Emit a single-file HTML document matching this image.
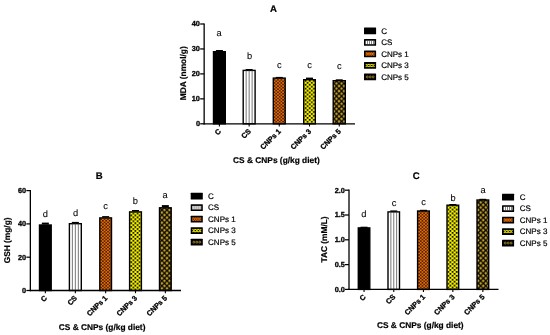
<!DOCTYPE html>
<html><head><meta charset="utf-8"><title>Figure</title>
<style>
html,body{margin:0;padding:0;background:#fff;}
svg{display:block;}
text{font-family:"Liberation Sans",Arial,sans-serif;fill:#000;text-rendering:geometricPrecision;}
.tk{font-size:7.3px;font-weight:bold;stroke:#000;stroke-width:0.3px;}
.al{font-size:8.35px;font-weight:bold;stroke:#000;stroke-width:0.2px;}
.tt{font-size:9.6px;font-weight:bold;stroke:#000;stroke-width:0.2px;}
.lt{font-size:9.3px;stroke:#000;stroke-width:0.08px;}
.lg{font-size:8px;stroke:#000;stroke-width:0.2px;}
</style></head><body>
<svg width="550" height="335" viewBox="0 0 550 335">
<rect width="550" height="335" fill="#fff"/>
<defs>
<pattern id="p1" width="3.4" height="3.1" patternUnits="userSpaceOnUse"><rect width="3.4" height="3.1" fill="#e26e08"/><circle cx="0.85" cy="0.8" r="0.85" fill="#3a1000"/><circle cx="2.55" cy="2.35" r="0.85" fill="#3a1000"/></pattern>
<pattern id="p3" width="4.2" height="3.9" patternUnits="userSpaceOnUse"><rect width="4.2" height="3.9" fill="#f6f200"/><rect x="0.1" y="0.05" width="1.85" height="1.75" rx="0.5" fill="#000"/><rect x="2.2" y="2.0" width="1.85" height="1.75" rx="0.5" fill="#000"/></pattern>
<pattern id="p5" width="5.06" height="5.06" patternUnits="userSpaceOnUse"><rect width="5.06" height="5.06" fill="#0a0800"/><path d="M-1.380 0.000L0.000 -1.380L1.380 0.000L0.000 1.380ZM3.680 0.000L5.060 -1.380L6.440 0.000L5.060 1.380ZM-1.380 5.060L0.000 3.680L1.380 5.060L0.000 6.440ZM3.680 5.060L5.060 3.680L6.440 5.060L5.060 6.440ZM1.150 2.530L2.530 1.150L3.910 2.530L2.530 3.910Z" fill="#c6a22c" stroke="#c6a22c" stroke-width="0.3" stroke-linejoin="round"/></pattern>
</defs>
<rect x="215.90" y="50.00" width="7" height="1.50" fill="#000"/>
<rect x="213.50" y="51.70" width="11.80" height="72.10" fill="#000" stroke="#000" stroke-width="1.4"/>
<text x="219.2" y="36.3" class="lt" text-anchor="middle">a</text>
<line x1="219.40" y1="123.8" x2="219.40" y2="126.5" stroke="#000" stroke-width="1.1"/>
<text transform="translate(221.60,131.80) rotate(-45)" class="tk" text-anchor="end">C</text>
<rect x="245.65" y="69.00" width="7" height="1.50" fill="#000"/>
<rect x="243.20" y="70.40" width="11.90" height="53.40" fill="#fff" stroke="#000" stroke-width="1.4"/>
<line x1="246.17" y1="70.40" x2="246.17" y2="123.80" stroke="#4a4a4a" stroke-width="0.75"/>
<line x1="249.15" y1="70.40" x2="249.15" y2="123.80" stroke="#4a4a4a" stroke-width="0.75"/>
<line x1="252.12" y1="70.40" x2="252.12" y2="123.80" stroke="#4a4a4a" stroke-width="0.75"/>
<text x="249.6" y="58.9" class="lt" text-anchor="middle">b</text>
<line x1="249.15" y1="123.8" x2="249.15" y2="126.5" stroke="#000" stroke-width="1.1"/>
<text transform="translate(251.35,131.80) rotate(-45)" class="tk" text-anchor="end">CS</text>
<rect x="275.75" y="76.90" width="7" height="1.50" fill="#000"/>
<rect x="273.30" y="78.10" width="11.90" height="45.70" fill="url(#p1)" stroke="#000" stroke-width="1.4"/>
<text x="279.3" y="68.2" class="lt" text-anchor="middle">c</text>
<line x1="279.25" y1="123.8" x2="279.25" y2="126.5" stroke="#000" stroke-width="1.1"/>
<text transform="translate(281.45,131.80) rotate(-45)" class="tk" text-anchor="end">CNPs 1</text>
<rect x="306.00" y="77.60" width="7" height="1.70" fill="#000"/>
<rect x="303.70" y="79.70" width="11.60" height="44.10" fill="url(#p3)" stroke="#000" stroke-width="1.4"/>
<text x="309.5" y="68.2" class="lt" text-anchor="middle">c</text>
<line x1="309.50" y1="123.8" x2="309.50" y2="126.5" stroke="#000" stroke-width="1.1"/>
<text transform="translate(311.70,131.80) rotate(-45)" class="tk" text-anchor="end">CNPs 3</text>
<rect x="335.75" y="79.30" width="7" height="1.50" fill="#000"/>
<rect x="333.20" y="80.70" width="12.10" height="43.10" fill="url(#p5)" stroke="#000" stroke-width="1.4"/>
<text x="339.3" y="69.2" class="lt" text-anchor="middle">c</text>
<line x1="339.25" y1="123.8" x2="339.25" y2="126.5" stroke="#000" stroke-width="1.1"/>
<text transform="translate(341.45,131.80) rotate(-45)" class="tk" text-anchor="end">CNPs 5</text>
<line x1="204.15" y1="23.4" x2="204.15" y2="124.45" stroke="#000" stroke-width="1.3"/>
<line x1="203.55" y1="123.8" x2="355" y2="123.8" stroke="#000" stroke-width="1.3"/>
<line x1="200.15" y1="123.80" x2="204.15" y2="123.80" stroke="#000" stroke-width="1.25"/>
<text x="199.95" y="126.25" class="tk" text-anchor="end">0</text>
<line x1="200.15" y1="98.85" x2="204.15" y2="98.85" stroke="#000" stroke-width="1.25"/>
<text x="199.95" y="101.30" class="tk" text-anchor="end">10</text>
<line x1="200.15" y1="73.90" x2="204.15" y2="73.90" stroke="#000" stroke-width="1.25"/>
<text x="199.95" y="76.35" class="tk" text-anchor="end">20</text>
<line x1="200.15" y1="48.95" x2="204.15" y2="48.95" stroke="#000" stroke-width="1.25"/>
<text x="199.95" y="51.40" class="tk" text-anchor="end">30</text>
<line x1="200.15" y1="24.00" x2="204.15" y2="24.00" stroke="#000" stroke-width="1.25"/>
<text x="199.95" y="26.45" class="tk" text-anchor="end">40</text>
<text transform="translate(185.8,73.3) rotate(-90)" class="al" text-anchor="middle">MDA (nmol/g)</text>
<text x="276.4" y="163.1" class="al" text-anchor="middle">CS &amp; CNPs (g/kg diet)</text>
<text x="273.5" y="11.6" class="tt" text-anchor="middle">A</text>
<rect x="364.0" y="27.60" width="12.1" height="6.7" rx="0.5" fill="#000"/>
<text x="381.2" y="33.50" class="lg">C</text>
<rect x="364.0" y="39.10" width="12.1" height="6.7" rx="0.5" fill="#000"/>
<rect x="365.60" y="40.70" width="8.9" height="3.5" fill="#fff"/>
<rect x="367.07" y="40.70" width="0.56" height="3.5" fill="#222"/>
<rect x="369.07" y="40.70" width="0.56" height="3.5" fill="#222"/>
<rect x="371.07" y="40.70" width="0.56" height="3.5" fill="#222"/>
<rect x="373.07" y="40.70" width="0.56" height="3.5" fill="#222"/>
<text x="381.2" y="45.00" class="lg">CS</text>
<rect x="364.0" y="50.60" width="12.1" height="6.7" rx="0.5" fill="#000"/>
<rect x="365.60" y="52.20" width="8.9" height="3.5" fill="#e47008"/>
<circle cx="366.80" cy="53.95" r="0.55" fill="#3a1000"/>
<circle cx="369.05" cy="53.95" r="0.55" fill="#3a1000"/>
<circle cx="371.30" cy="53.95" r="0.55" fill="#3a1000"/>
<circle cx="373.55" cy="53.95" r="0.55" fill="#3a1000"/>
<circle cx="367.90" cy="52.50" r="0.5" fill="#3a1000"/>
<circle cx="367.90" cy="55.40" r="0.5" fill="#3a1000"/>
<circle cx="370.15" cy="52.50" r="0.5" fill="#3a1000"/>
<circle cx="370.15" cy="55.40" r="0.5" fill="#3a1000"/>
<circle cx="372.40" cy="52.50" r="0.5" fill="#3a1000"/>
<circle cx="372.40" cy="55.40" r="0.5" fill="#3a1000"/>
<text x="381.2" y="56.50" class="lg">CNPs 1</text>
<rect x="364.0" y="62.10" width="12.1" height="6.7" rx="0.5" fill="#000"/>
<path d="M365.80 64.00L368.50 66.90M368.50 64.00L365.80 66.90M368.80 64.00L371.50 66.90M371.50 64.00L368.80 66.90M371.80 64.00L374.50 66.90M374.50 64.00L371.80 66.90" stroke="#e8e400" stroke-width="1.05" fill="none"/>
<text x="381.2" y="68.00" class="lg">CNPs 3</text>
<rect x="364.0" y="73.60" width="12.1" height="6.7" rx="0.5" fill="#000"/>
<circle cx="367.20" cy="76.95" r="1.0" fill="none" stroke="#c8a430" stroke-width="0.7"/>
<circle cx="370.15" cy="76.95" r="1.0" fill="none" stroke="#c8a430" stroke-width="0.7"/>
<circle cx="373.10" cy="76.95" r="1.0" fill="none" stroke="#c8a430" stroke-width="0.7"/>
<text x="381.2" y="79.50" class="lg">CNPs 5</text>
<rect x="41.85" y="222.60" width="7" height="2.00" fill="#000"/>
<rect x="39.50" y="225.00" width="11.70" height="65.50" fill="#000" stroke="#000" stroke-width="1.4"/>
<text x="45.3" y="217.0" class="lt" text-anchor="middle">d</text>
<line x1="45.35" y1="290.5" x2="45.35" y2="293.2" stroke="#000" stroke-width="1.1"/>
<text transform="translate(47.55,298.50) rotate(-45)" class="tk" text-anchor="end">C</text>
<rect x="71.85" y="221.90" width="7" height="1.50" fill="#000"/>
<rect x="69.40" y="223.70" width="11.90" height="66.80" fill="#fff" stroke="#000" stroke-width="1.4"/>
<line x1="72.38" y1="223.70" x2="72.38" y2="290.50" stroke="#4a4a4a" stroke-width="0.75"/>
<line x1="75.35" y1="223.70" x2="75.35" y2="290.50" stroke="#4a4a4a" stroke-width="0.75"/>
<line x1="78.33" y1="223.70" x2="78.33" y2="290.50" stroke="#4a4a4a" stroke-width="0.75"/>
<text x="75.5" y="215.9" class="lt" text-anchor="middle">d</text>
<line x1="75.35" y1="290.5" x2="75.35" y2="293.2" stroke="#000" stroke-width="1.1"/>
<text transform="translate(77.55,298.50) rotate(-45)" class="tk" text-anchor="end">CS</text>
<rect x="102.15" y="216.10" width="7" height="1.50" fill="#000"/>
<rect x="99.80" y="217.90" width="11.70" height="72.60" fill="url(#p1)" stroke="#000" stroke-width="1.4"/>
<text x="105.5" y="209.0" class="lt" text-anchor="middle">c</text>
<line x1="105.65" y1="290.5" x2="105.65" y2="293.2" stroke="#000" stroke-width="1.1"/>
<text transform="translate(107.85,298.50) rotate(-45)" class="tk" text-anchor="end">CNPs 1</text>
<rect x="132.00" y="210.00" width="7" height="1.50" fill="#000"/>
<rect x="129.60" y="211.90" width="11.80" height="78.60" fill="url(#p3)" stroke="#000" stroke-width="1.4"/>
<text x="135.3" y="204.1" class="lt" text-anchor="middle">b</text>
<line x1="135.50" y1="290.5" x2="135.50" y2="293.2" stroke="#000" stroke-width="1.1"/>
<text transform="translate(137.70,298.50) rotate(-45)" class="tk" text-anchor="end">CNPs 3</text>
<rect x="161.85" y="205.10" width="7" height="2.30" fill="#000"/>
<rect x="159.50" y="207.80" width="11.70" height="82.70" fill="url(#p5)" stroke="#000" stroke-width="1.4"/>
<text x="165.1" y="198.3" class="lt" text-anchor="middle">a</text>
<line x1="165.35" y1="290.5" x2="165.35" y2="293.2" stroke="#000" stroke-width="1.1"/>
<text transform="translate(167.55,298.50) rotate(-45)" class="tk" text-anchor="end">CNPs 5</text>
<line x1="30.35" y1="190.0" x2="30.35" y2="291.15" stroke="#000" stroke-width="1.3"/>
<line x1="29.75" y1="290.5" x2="181" y2="290.5" stroke="#000" stroke-width="1.3"/>
<line x1="26.35" y1="290.50" x2="30.35" y2="290.50" stroke="#000" stroke-width="1.25"/>
<text x="26.15" y="292.95" class="tk" text-anchor="end">0</text>
<line x1="26.35" y1="257.20" x2="30.35" y2="257.20" stroke="#000" stroke-width="1.25"/>
<text x="26.15" y="259.65" class="tk" text-anchor="end">20</text>
<line x1="26.35" y1="223.90" x2="30.35" y2="223.90" stroke="#000" stroke-width="1.25"/>
<text x="26.15" y="226.35" class="tk" text-anchor="end">40</text>
<line x1="26.35" y1="190.60" x2="30.35" y2="190.60" stroke="#000" stroke-width="1.25"/>
<text x="26.15" y="193.05" class="tk" text-anchor="end">60</text>
<text transform="translate(10.2,240.4) rotate(-90)" class="al" text-anchor="middle">GSH (mg/g)</text>
<text x="102.1" y="329.5" class="al" text-anchor="middle">CS &amp; CNPs (g/kg diet)</text>
<text x="99.3" y="178.5" class="tt" text-anchor="middle">B</text>
<rect x="190.7" y="192.80" width="12.1" height="6.7" rx="0.5" fill="#000"/>
<text x="208.1" y="198.70" class="lg">C</text>
<rect x="190.7" y="204.30" width="12.1" height="6.7" rx="0.5" fill="#000"/>
<rect x="192.30" y="205.90" width="8.9" height="3.5" fill="#fff"/>
<rect x="193.77" y="205.90" width="0.56" height="3.5" fill="#222"/>
<rect x="195.77" y="205.90" width="0.56" height="3.5" fill="#222"/>
<rect x="197.77" y="205.90" width="0.56" height="3.5" fill="#222"/>
<rect x="199.77" y="205.90" width="0.56" height="3.5" fill="#222"/>
<text x="208.1" y="210.20" class="lg">CS</text>
<rect x="190.7" y="215.80" width="12.1" height="6.7" rx="0.5" fill="#000"/>
<rect x="192.30" y="217.40" width="8.9" height="3.5" fill="#e47008"/>
<circle cx="193.50" cy="219.15" r="0.55" fill="#3a1000"/>
<circle cx="195.75" cy="219.15" r="0.55" fill="#3a1000"/>
<circle cx="198.00" cy="219.15" r="0.55" fill="#3a1000"/>
<circle cx="200.25" cy="219.15" r="0.55" fill="#3a1000"/>
<circle cx="194.60" cy="217.70" r="0.5" fill="#3a1000"/>
<circle cx="194.60" cy="220.60" r="0.5" fill="#3a1000"/>
<circle cx="196.85" cy="217.70" r="0.5" fill="#3a1000"/>
<circle cx="196.85" cy="220.60" r="0.5" fill="#3a1000"/>
<circle cx="199.10" cy="217.70" r="0.5" fill="#3a1000"/>
<circle cx="199.10" cy="220.60" r="0.5" fill="#3a1000"/>
<text x="208.1" y="221.70" class="lg">CNPs 1</text>
<rect x="190.7" y="227.30" width="12.1" height="6.7" rx="0.5" fill="#000"/>
<path d="M192.50 229.20L195.20 232.10M195.20 229.20L192.50 232.10M195.50 229.20L198.20 232.10M198.20 229.20L195.50 232.10M198.50 229.20L201.20 232.10M201.20 229.20L198.50 232.10" stroke="#e8e400" stroke-width="1.05" fill="none"/>
<text x="208.1" y="233.20" class="lg">CNPs 3</text>
<rect x="190.7" y="238.80" width="12.1" height="6.7" rx="0.5" fill="#000"/>
<circle cx="193.90" cy="242.15" r="1.0" fill="none" stroke="#c8a430" stroke-width="0.7"/>
<circle cx="196.85" cy="242.15" r="1.0" fill="none" stroke="#c8a430" stroke-width="0.7"/>
<circle cx="199.80" cy="242.15" r="1.0" fill="none" stroke="#c8a430" stroke-width="0.7"/>
<text x="208.1" y="244.70" class="lg">CNPs 5</text>
<rect x="360.55" y="226.70" width="7" height="1.50" fill="#000"/>
<rect x="358.30" y="227.90" width="11.50" height="61.50" fill="#000" stroke="#000" stroke-width="1.4"/>
<text x="363.9" y="217.2" class="lt" text-anchor="middle">d</text>
<line x1="364.05" y1="289.4" x2="364.05" y2="292.09999999999997" stroke="#000" stroke-width="1.1"/>
<text transform="translate(366.25,297.40) rotate(-45)" class="tk" text-anchor="end">C</text>
<rect x="390.25" y="210.40" width="7" height="1.50" fill="#000"/>
<rect x="388.00" y="211.90" width="11.50" height="77.50" fill="#fff" stroke="#000" stroke-width="1.4"/>
<line x1="390.88" y1="211.90" x2="390.88" y2="289.40" stroke="#4a4a4a" stroke-width="0.75"/>
<line x1="393.75" y1="211.90" x2="393.75" y2="289.40" stroke="#4a4a4a" stroke-width="0.75"/>
<line x1="396.62" y1="211.90" x2="396.62" y2="289.40" stroke="#4a4a4a" stroke-width="0.75"/>
<text x="394.0" y="205.8" class="lt" text-anchor="middle">c</text>
<line x1="393.75" y1="289.4" x2="393.75" y2="292.09999999999997" stroke="#000" stroke-width="1.1"/>
<text transform="translate(395.95,297.40) rotate(-45)" class="tk" text-anchor="end">CS</text>
<rect x="419.95" y="209.80" width="7" height="1.50" fill="#000"/>
<rect x="417.60" y="211.00" width="11.70" height="78.40" fill="url(#p1)" stroke="#000" stroke-width="1.4"/>
<text x="423.7" y="205.0" class="lt" text-anchor="middle">c</text>
<line x1="423.45" y1="289.4" x2="423.45" y2="292.09999999999997" stroke="#000" stroke-width="1.1"/>
<text transform="translate(425.65,297.40) rotate(-45)" class="tk" text-anchor="end">CNPs 1</text>
<rect x="449.35" y="204.00" width="7" height="1.50" fill="#000"/>
<rect x="447.00" y="205.20" width="11.70" height="84.20" fill="url(#p3)" stroke="#000" stroke-width="1.4"/>
<text x="453.0" y="201.0" class="lt" text-anchor="middle">b</text>
<line x1="452.85" y1="289.4" x2="452.85" y2="292.09999999999997" stroke="#000" stroke-width="1.1"/>
<text transform="translate(455.05,297.40) rotate(-45)" class="tk" text-anchor="end">CNPs 3</text>
<rect x="479.35" y="198.80" width="7" height="1.50" fill="#000"/>
<rect x="477.00" y="200.00" width="11.70" height="89.40" fill="url(#p5)" stroke="#000" stroke-width="1.4"/>
<text x="483.0" y="193.4" class="lt" text-anchor="middle">a</text>
<line x1="482.85" y1="289.4" x2="482.85" y2="292.09999999999997" stroke="#000" stroke-width="1.1"/>
<text transform="translate(485.05,297.40) rotate(-45)" class="tk" text-anchor="end">CNPs 5</text>
<line x1="349.0" y1="189.6" x2="349.0" y2="290.04999999999995" stroke="#000" stroke-width="1.3"/>
<line x1="348.4" y1="289.4" x2="498.5" y2="289.4" stroke="#000" stroke-width="1.3"/>
<line x1="345.00" y1="289.40" x2="349.0" y2="289.40" stroke="#000" stroke-width="1.25"/>
<text x="344.80" y="291.85" class="tk" text-anchor="end">0.0</text>
<line x1="345.00" y1="264.60" x2="349.0" y2="264.60" stroke="#000" stroke-width="1.25"/>
<text x="344.80" y="267.05" class="tk" text-anchor="end">0.5</text>
<line x1="345.00" y1="239.80" x2="349.0" y2="239.80" stroke="#000" stroke-width="1.25"/>
<text x="344.80" y="242.25" class="tk" text-anchor="end">1.0</text>
<line x1="345.00" y1="215.00" x2="349.0" y2="215.00" stroke="#000" stroke-width="1.25"/>
<text x="344.80" y="217.45" class="tk" text-anchor="end">1.5</text>
<line x1="345.00" y1="190.20" x2="349.0" y2="190.20" stroke="#000" stroke-width="1.25"/>
<text x="344.80" y="192.65" class="tk" text-anchor="end">2.0</text>
<text transform="translate(327.3,239.5) rotate(-90)" class="al" text-anchor="middle">TAC (mM/L)</text>
<text x="420.3" y="328.3" class="al" text-anchor="middle">CS &amp; CNPs (g/kg diet)</text>
<text x="416.2" y="178.6" class="tt" text-anchor="middle">C</text>
<rect x="502.0" y="193.70" width="12.1" height="6.7" rx="0.5" fill="#000"/>
<text x="519.8" y="199.60" class="lg">C</text>
<rect x="502.0" y="205.20" width="12.1" height="6.7" rx="0.5" fill="#000"/>
<rect x="503.60" y="206.80" width="8.9" height="3.5" fill="#fff"/>
<rect x="505.07" y="206.80" width="0.56" height="3.5" fill="#222"/>
<rect x="507.07" y="206.80" width="0.56" height="3.5" fill="#222"/>
<rect x="509.07" y="206.80" width="0.56" height="3.5" fill="#222"/>
<rect x="511.07" y="206.80" width="0.56" height="3.5" fill="#222"/>
<text x="519.8" y="211.10" class="lg">CS</text>
<rect x="502.0" y="216.70" width="12.1" height="6.7" rx="0.5" fill="#000"/>
<rect x="503.60" y="218.30" width="8.9" height="3.5" fill="#e47008"/>
<circle cx="504.80" cy="220.05" r="0.55" fill="#3a1000"/>
<circle cx="507.05" cy="220.05" r="0.55" fill="#3a1000"/>
<circle cx="509.30" cy="220.05" r="0.55" fill="#3a1000"/>
<circle cx="511.55" cy="220.05" r="0.55" fill="#3a1000"/>
<circle cx="505.90" cy="218.60" r="0.5" fill="#3a1000"/>
<circle cx="505.90" cy="221.50" r="0.5" fill="#3a1000"/>
<circle cx="508.15" cy="218.60" r="0.5" fill="#3a1000"/>
<circle cx="508.15" cy="221.50" r="0.5" fill="#3a1000"/>
<circle cx="510.40" cy="218.60" r="0.5" fill="#3a1000"/>
<circle cx="510.40" cy="221.50" r="0.5" fill="#3a1000"/>
<text x="519.8" y="222.60" class="lg">CNPs 1</text>
<rect x="502.0" y="228.20" width="12.1" height="6.7" rx="0.5" fill="#000"/>
<path d="M503.80 230.10L506.50 233.00M506.50 230.10L503.80 233.00M506.80 230.10L509.50 233.00M509.50 230.10L506.80 233.00M509.80 230.10L512.50 233.00M512.50 230.10L509.80 233.00" stroke="#e8e400" stroke-width="1.05" fill="none"/>
<text x="519.8" y="234.10" class="lg">CNPs 3</text>
<rect x="502.0" y="239.70" width="12.1" height="6.7" rx="0.5" fill="#000"/>
<circle cx="505.20" cy="243.05" r="1.0" fill="none" stroke="#c8a430" stroke-width="0.7"/>
<circle cx="508.15" cy="243.05" r="1.0" fill="none" stroke="#c8a430" stroke-width="0.7"/>
<circle cx="511.10" cy="243.05" r="1.0" fill="none" stroke="#c8a430" stroke-width="0.7"/>
<text x="519.8" y="245.60" class="lg">CNPs 5</text>
</svg>
</body></html>
